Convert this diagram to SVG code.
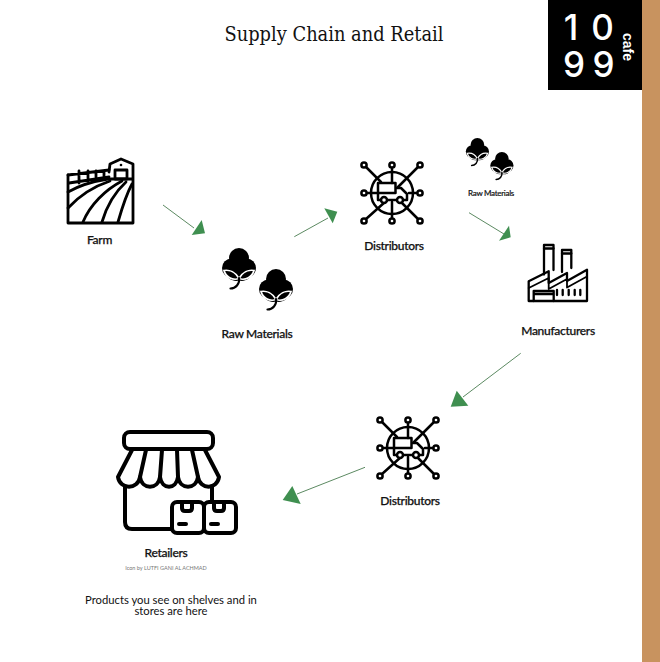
<svg xmlns="http://www.w3.org/2000/svg" xmlns:xlink="http://www.w3.org/1999/xlink" width="660" height="662" viewBox="0 0 660 662">
<style>
.lbl{font-family:Lato,"Liberation Sans",sans-serif;font-size:12px;font-weight:500;fill:#111;stroke:#111;stroke-width:.25px;text-anchor:middle;letter-spacing:-.3px}
.ln{fill:none;stroke:#000;stroke-linecap:round;stroke-linejoin:round}
.conn{stroke:#5c8a62;stroke-width:1;fill:none}
.head{fill:#3f8f50;stroke:none}
</style>
<defs>
<g id="cotton">
<circle cx="17.500" cy="10" r="10"/>
<circle cx="10" cy="20" r="9.500"/>
<circle cx="25" cy="20" r="9.500"/>
<path d="M4,25C6,31 12,34 17.500,32.500C23,34 29,31 31,25Z"/>
<path d="M17.500,30.500C14,24 8,21.500 2.500,22.500C4,28.500 11,33 17.500,30.500ZM17.500,30.500C21,24 27,21.500 32.500,22.500C31,28.500 24,33 17.500,30.500Z" stroke="#fff" stroke-width="1.700"/>
<path d="M17.500,30C18.500,36 14,40.500 9,40.500" fill="none" stroke="#000" stroke-width="2.200" stroke-linecap="round"/>
</g>
<g id="hub" class="ln" stroke-width="2.500">
<circle r="21"/>
<path d="M0,-25.500V-10M0,25.500V9M-25.500,0H-14M17,0H25.500M-26,-26L-11,-11M26,-26L6,-6M-26,26L-7,9M26,26L9,9"/>
<g fill="#fff"><circle cx="0" cy="-28" r="2.600"/><circle cx="0" cy="28" r="2.600"/><circle cx="-28" cy="0" r="2.600"/><circle cx="28" cy="0" r="2.600"/><circle cx="-28" cy="-28" r="2.600"/><circle cx="28" cy="-28" r="2.600"/><circle cx="-28" cy="28" r="2.600"/><circle cx="28" cy="28" r="2.600"/></g>
<path d="M-14,-10H3.500V0H-14ZM-14,0V7H-11M-5,7H5M3.500,-5H9L15,1V7H11"/>
<circle cx="-8" cy="7" r="3" fill="#fff"/><circle cx="8" cy="7" r="3" fill="#fff"/>
</g>
</defs>
<rect width="660" height="662" fill="#fff"/>
<rect x="642" y="0" width="18" height="662" fill="#c8935f"/>
<g id="logo">
<rect x="548" y="0" width="94" height="90" fill="#000"/>
<g font-family="Inter,Roboto,sans-serif" font-size="35" font-weight="500" fill="#fff" text-anchor="middle">
<text x="571" y="40">1</text><text x="602.500" y="40">0</text>
<text x="574" y="77">9</text><text x="603.500" y="77">9</text>
</g>
<text transform="translate(623,47) rotate(90)" font-family="Liberation Sans,sans-serif" font-weight="700" font-size="14" fill="#fff" text-anchor="middle">cafe</text>
</g>
<text id="title" x="334" y="41" font-family="DejaVu Serif Condensed,DejaVu Serif,serif" font-stretch="condensed" font-size="19.500" fill="#111" text-anchor="middle" textLength="219" lengthAdjust="spacingAndGlyphs">Supply Chain and Retail</text>
<g id="connectors">
<path class="conn" d="M163,205L194,228"/><path class="head" d="M201.700,220L191.700,235L205,233.300Z"/>
<path class="conn" d="M294.300,236.700L328,218"/><path class="head" d="M324.300,208.300L337.300,211.700L332.700,223.300Z"/>
<path class="conn" d="M469,212.700L504,234"/><path class="head" d="M509,225.700L499,240.700L510.700,237.300Z"/>
<path class="conn" d="M520.700,353.300L463,397"/><path class="head" d="M456.700,390.700L450.700,406.700L468.300,405.700Z"/>
<path class="conn" d="M365,467.300L297,494"/><path class="head" d="M292.300,486L282.700,500L300.700,504Z"/>
</g>
<g id="farm">
<g class="ln" stroke-width="2.800">
<path d="M68,175V223H133V164L121,159L110,164L109,172"/>
<path d="M68,175L109,170M69,183L109,177M79,171V183M88,171V181M96,171V180M104,171V179"/>
<rect x="115" y="170" width="12" height="9"/>
<path d="M68,192C82,184 95,181 108,179H132"/>
<path d="M68,208C80,195 95,186 110,181M83,222C90,205 105,190 122,181M102,222C107,205 115,192 126,182M118,222C122,208 126,195 132,184"/>
</g>
<circle cx="121" cy="165" r="1.300"/>
<text class="lbl" x="99.500" y="244">Farm</text>
</g>
<g id="raw1">
<use href="#cotton" x="221.500" y="248"/>
<use href="#cotton" x="258.500" y="269"/>
<text class="lbl" x="257" y="338">Raw Materials</text>
</g>
<g id="dist1">
<use href="#hub" transform="translate(392,193)"/>
<text class="lbl" x="394" y="250">Distributors</text>
</g>
<g id="raw2">
<use href="#cotton" transform="translate(465.500,138) scale(.68)"/>
<use href="#cotton" transform="translate(490,152) scale(.68)"/>
<text class="lbl" x="491" y="196" style="font-size:8px;stroke-width:.15px">Raw Materials</text>
</g>
<g id="factory">
<g class="ln" stroke-width="2.300">
<path d="M544,274.500V245H553.500V270M562,272V250H571.300V268"/>
<path d="M544,248.500H553.500M562,253.500H571.300"/>
<path d="M528.700,281.300L548.700,271.300V283L567,273V281L587,269.700V301H528.700Z"/>
<path d="M528.700,288L548.700,278V289L567,279V287.500L587,276.500" stroke-width="1.800"/>
<path d="M533.700,301V291H553.700V301M533.700,294H553.700"/>
<path d="M557,290V295M562.700,290V295M568.700,290V295M574.700,290V295M580.300,290V295"/>
</g>
<text class="lbl" x="558" y="335">Manufacturers</text>
</g>
<g id="dist2">
<use href="#hub" transform="translate(408,448)"/>
<text class="lbl" x="410" y="505">Distributors</text>
</g>
<g id="retail">
<g class="ln" stroke-width="4">
<rect x="124" y="432" width="89" height="17" rx="6"/>
<path d="M132,450L118,477C120,490 138,490 140,477C142,490 158,490 160,477C162,490 176,490 178,477C180,490 196,490 198,477C200,490 217,490 219,477L205,450"/>
<path d="M146,450L140,477M162,450L160,477M177,450L178,477M192,450L198,477"/>
<path d="M125,486V522Q125,529 132,529H171M212,486V501"/>
<rect x="172" y="502" width="32" height="31" rx="5"/>
<rect x="204" y="502" width="32" height="31" rx="5"/>
<path d="M182,503V508Q182,511 185,511H189Q192,511 192,508V503M214,503V508Q214,511 217,511H221Q224,511 224,508V503M179,524H186M211,524H218"/>
</g>
<text class="lbl" x="166" y="557">Retailers</text>
<text x="166" y="570" font-family="Lato,sans-serif" font-size="5.500" fill="#777" text-anchor="middle">Icon by LUTFI GANI AL ACHMAD</text>
<text x="171" y="604" font-family="Lato,sans-serif" font-size="11.250" fill="#111" text-anchor="middle">Products you see on shelves and in</text>
<text x="171" y="615" font-family="Lato,sans-serif" font-size="11.250" fill="#111" text-anchor="middle">stores are here</text>
</g>
</svg>
